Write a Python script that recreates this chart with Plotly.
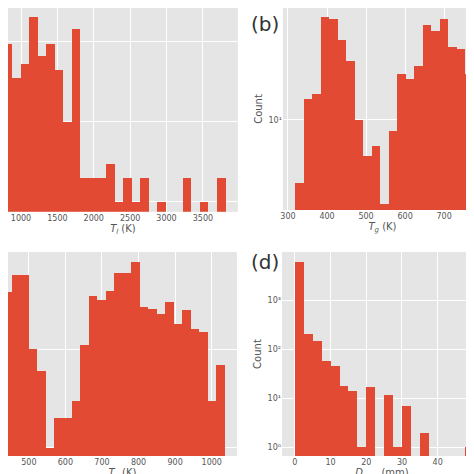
import plotly.graph_objects as go

# (a) T_l
a_start, a_width = 759, 117.4
a_counts = [94,35,53,204,67,94,45,10,147,2,2,2,3,1,2,1,2,0,1,0,0,2,0,1,0,2]
# (b) T_g
b_start, b_width = 318, 21.8
b_counts = [3,15,16.5,72,69,46,31,10,5,6,2,8,24,22,28,62,55,69,40,39,24,19,20]
# (c) T_x
c_start, c_width = 430.3, 23.3
c_counts = [38,57,57,10,6,1,2,2,3,11,35,32,39,60,60,78,27,26,23,30,18,25,16,15,3,7]
# (d) D_max
d_start, d_width = 0, 2.5
d_counts = [6150,212,148,59,46,18,14,1,17,0,12,1,7,0,2,0,0,0,0,1,2]

log_ticks = [1, 10, 100, 1000]
log_labels = ["10⁰", "10¹", "10²", "10³"]

RED = "#E24A33"
BG = "#E5E5E5"
TICK = dict(size=8, color="#555555", family="DejaVu Sans")
TFONT = dict(size=10, color="#555555", family="DejaVu Sans")

def centers(start, width, n):
    return [start + (i + 0.5) * width for i in range(n)]

fig = go.Figure()
panels = [
    ("x", "y", a_start, a_width, a_counts),
    ("x2", "y2", b_start, b_width, b_counts),
    ("x3", "y3", c_start, c_width, c_counts),
    ("x4", "y4", d_start, d_width, d_counts),
]
for xa, ya, s, w, cnt in panels:
    fig.add_trace(go.Bar(x=centers(s, w, len(cnt)), y=[v if v > 0 else None for v in cnt],
                         width=w, marker=dict(color=RED, line=dict(width=0)),
                         xaxis=xa, yaxis=ya, showlegend=False))

def xax(dom, rng, ticks, title, anchor):
    return dict(domain=dom, range=rng, tickvals=ticks, anchor=anchor, showgrid=True,
                gridcolor="white", gridwidth=1, zeroline=False, tickfont=TICK, automargin=False,
                ticks="", title=dict(text=title, font=TFONT, standoff=0))

def yax(dom, rng, ticks, title, anchor, show):
    return dict(domain=dom, type="log", range=rng, tickvals=ticks,
                ticktext=[log_labels[log_ticks.index(t)] for t in ticks], anchor=anchor,
                showgrid=True, gridcolor="white", gridwidth=1, automargin=False,
                tickfont=TICK, showticklabels=show, ticks="",
                title=dict(text=title, font=TFONT, standoff=4))

fig.update_layout(
    width=474, height=474, margin=dict(l=0, r=0, t=0, b=0, autoexpand=False),
    paper_bgcolor="white", plot_bgcolor=BG, bargap=0,
    xaxis=xax([0, 0.485], [821, 3981], [1000,1500,2000,2500,3000,3500], "<i>T<sub>l</sub></i> (K)", "y"),
    yaxis=yax([0.570, 1], [-0.125, 2.425], [1, 10, 100], "", "x", False),
    xaxis2=xax([0.580, 1], [287, 797], [300,400,500,600,700,800], "<i>T<sub>g</sub></i> (K)", "y2"),
    yaxis2=yax([0.574, 1], [0.25, 1.93], [10], "Count", "x2", True),
    xaxis3=xax([0, 0.483], [443, 1069], [500,600,700,800,900,1000], "<i>T<sub>x</sub></i> (K)", "y3"),
    yaxis3=yax([0.055, 0.485], [-0.084, 1.99], [1, 10], "", "x3", False),
    xaxis4=xax([0.578, 1], [-3.6, 52.4], [0,10,20,30,40,50], "<i>D<sub>max</sub></i> (mm)", "y4"),
    yaxis4=yax([0.055, 0.485], [-0.17, 3.99], [1, 10, 100, 1000], "Count", "x4", True),
    annotations=[
        dict(text="(b)", x=241/474, y=1 - 2/474, xref="paper", yref="paper", xanchor="left", yanchor="top",
             showarrow=False, font=dict(size=20, color="#333333", family="DejaVu Sans")),
        dict(text="(d)", x=241/474, y=1 - 240/474, xref="paper", yref="paper", xanchor="left", yanchor="top",
             showarrow=False, font=dict(size=20, color="#333333", family="DejaVu Sans")),
    ],
)
fig.write_html("out.html")
